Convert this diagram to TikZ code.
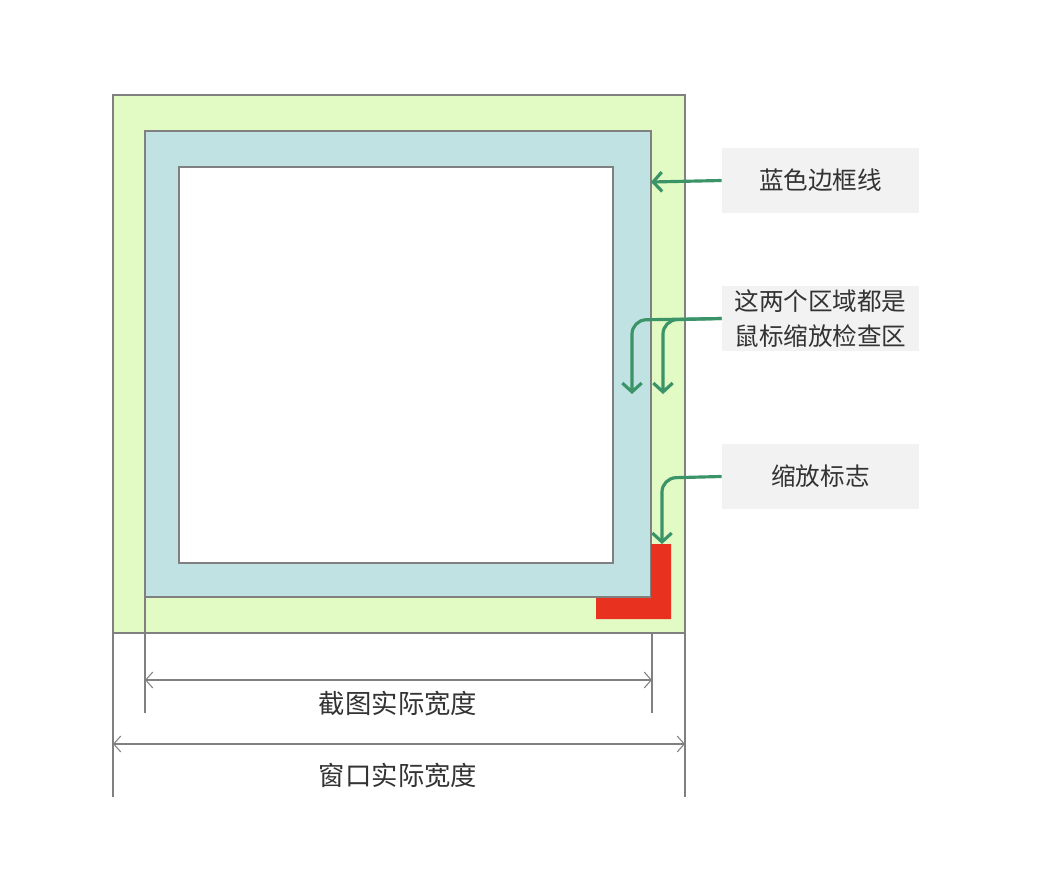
\documentclass[tikz,border=0pt]{standalone}
\usepackage{fontspec}
\setmainfont{Noto Sans CJK SC}
\usetikzlibrary{arrows.meta}
\definecolor{zonegreen}{HTML}{E2FAC4}
\definecolor{zoneblue}{HTML}{C0E2E3}
\definecolor{markred}{HTML}{E8321F}
\definecolor{linkgreen}{HTML}{3A9468}
\definecolor{tagfill}{HTML}{F2F2F2}
\tikzset{
  tag/.style={fill=tagfill, minimum width=3.94cm, minimum height=1.3cm, font=\fontsize{14}{20}\selectfont, text=black!80, align=center, inner sep=0pt},
  link/.style={linkgreen, line width=1.8pt, -{Straight Barb[length=5pt, width=11pt]}},
  dimline/.style={gray, line width=0.6pt, {Straight Barb[length=4pt, width=9pt]}-{Straight Barb[length=4pt, width=9pt]}},
  extline/.style={gray, line width=0.6pt},
  dimtext/.style={font=\fontsize{15}{17}\selectfont, text=black!80}
}
\begin{document}
\begin{tikzpicture}[x=0.02cm, y=-0.02cm]
    \useasboundingbox (0,0) rectangle (1046,896);

    % 区域
    \draw[gray, fill=zonegreen, line width=0.8pt] (113,95) rectangle (685,633);
    \draw[gray, fill=zoneblue, line width=0.8pt] (145,131) rectangle (651,597);
    \draw[gray, fill=white, line width=0.8pt] (179,167) rectangle (613,563);
    \fill[markred] (651,544) -- (671,544) -- (671,619) -- (596,619) -- (596,598) -- (651,598) -- cycle;

    % 说明
    \node[tag] (border) at (820.5,180.5) {蓝色边框线};
    \node[tag] (check) at (820.5,318.5) {这两个区域都是\\鼠标缩放检查区};
    \node[tag] (mark) at (820.5,476.5) {缩放标志};

    \draw[link] (border.west) -- (651,182);
    \draw[link, rounded corners=8pt] (check.west) -- (632,320) -- (632,394);
    \draw[link, rounded corners=8pt] (check.west) -- (663,320) -- (663,394);
    \draw[link, rounded corners=8pt] (mark.west) -- (662,478) -- (662,544);

    % 尺寸
    \draw[extline] (145,597) -- (145,713);
    \draw[extline] (652,633) -- (652,713);
    \draw[dimline] (145,680) -- (652,680);
    \node[dimtext] (shotw) at (398,704) {截图实际宽度};

    \draw[extline] (113,633) -- (113,797);
    \draw[extline] (685,633) -- (685,797);
    \draw[dimline] (113,744) -- (685,744);
    \node[dimtext] (winw) at (398,776) {窗口实际宽度};
\end{tikzpicture}
\end{document}
